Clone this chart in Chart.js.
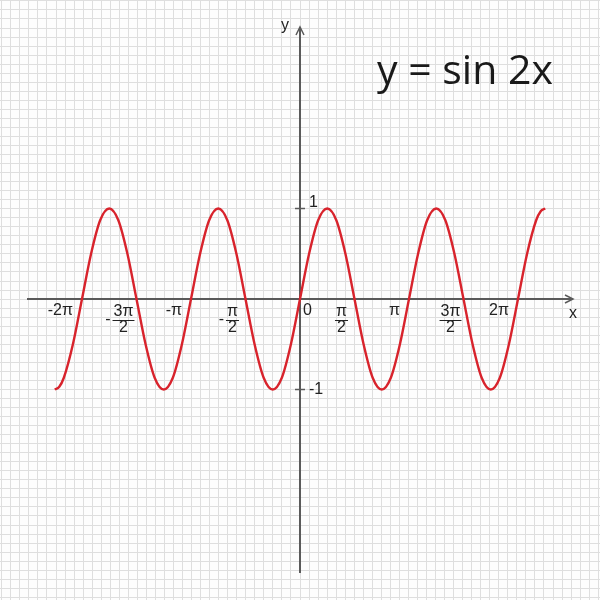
<!DOCTYPE html>
<html>
<head>
<meta charset="utf-8">
<script src="https://cdn.jsdelivr.net/npm/chart.js@4.4.1/dist/chart.umd.min.js"></script>
<style>
  html, body { margin: 0; padding: 0; background: #fdfdfd; }
  #wrap { width: 600px; height: 600px; }
</style>
</head>
<body>
<div id="wrap"><canvas id="sinChart" width="600" height="600"></canvas></div>
<script>
// x in degrees (180 = pi), every 15 degrees (plus one extra near each end)
const xDeg = [
  -405, -397.5, -390, -375, -360, -345, -330, -315, -300, -285, -270, -255, -240,
  -225, -210, -195, -180, -165, -150, -135, -120, -105, -90, -75, -60,
  -45, -30, -15, 0, 15, 30, 45, 60, 75, 90, 105, 120,
  135, 150, 165, 180, 195, 210, 225, 240, 255, 270, 285, 300,
  315, 330, 345, 360, 375, 390, 397.5, 405
];
const yVals = [
  -1, -0.97, -0.87, -0.5, 0, 0.5, 0.87, 1, 0.87, 0.5, 0, -0.5, -0.87,
  -1, -0.87, -0.5, 0, 0.5, 0.87, 1, 0.87, 0.5, 0, -0.5, -0.87,
  -1, -0.87, -0.5, 0, 0.5, 0.87, 1, 0.87, 0.5, 0, -0.5, -0.87,
  -1, -0.87, -0.5, 0, 0.5, 0.87, 1, 0.87, 0.5, 0, -0.5, -0.87,
  -1, -0.87, -0.5, 0, 0.5, 0.87, 0.97, 1
];
const xTickVals = [-360, -270, -180, -90, 0, 90, 180, 270, 360];
const xTickLabels = ['-2π', '-3π/2', '-π', '-π/2', '0', 'π/2', 'π', '3π/2', '2π'];
const yTickVals = [1, -1];
const yTickLabels = ['1', '-1'];
const titleText = 'y = sin 2x';

const points = xDeg.map((x, i) => ({ x: x, y: yVals[i] }));

const axisColor = '#5a5a5a';
const labelFont = '16px "Liberation Sans", Arial, sans-serif';

// axes, arrows, tick labels and title drawn under the curve
const axesPlugin = {
  id: 'axesPlugin',
  beforeDatasetsDraw(chart) {
    const ctx = chart.ctx;
    const xs = chart.scales.x;
    const ys = chart.scales.y;
    const ox = xs.getPixelForValue(0);
    const oy = ys.getPixelForValue(0);
    const left = 27, right = 573, top = 27, bottom = 573;

    ctx.save();
    ctx.strokeStyle = axisColor;
    ctx.lineWidth = 2;
    ctx.beginPath();
    ctx.moveTo(left, oy); ctx.lineTo(right, oy);
    ctx.moveTo(ox, bottom); ctx.lineTo(ox, top);
    ctx.stroke();

    // arrow heads
    ctx.lineWidth = 1.5;
    ctx.beginPath();
    ctx.moveTo(right - 8, oy - 4); ctx.lineTo(right, oy); ctx.lineTo(right - 8, oy + 4);
    ctx.moveTo(ox - 4, top + 8); ctx.lineTo(ox, top); ctx.lineTo(ox + 4, top + 8);
    ctx.stroke();

    // y ticks
    ctx.lineWidth = 1.5;
    yTickVals.forEach(v => {
      const py = ys.getPixelForValue(v);
      ctx.beginPath();
      ctx.moveTo(ox - 5, py); ctx.lineTo(ox + 5, py);
      ctx.stroke();
    });

    ctx.fillStyle = '#222';
    ctx.font = labelFont;
    ctx.textBaseline = 'middle';

    // x labels
    xTickVals.forEach((v, i) => {
      const px = xs.getPixelForValue(v);
      const lab = xTickLabels[i];
      if (lab === '0') {
        ctx.textAlign = 'left';
        ctx.fillText(lab, ox + 3, oy + 12);
      } else if (lab.indexOf('/') >= 0) {
        let neg = lab[0] === '-';
        const parts = (neg ? lab.slice(1) : lab).split('/');
        const cx = px - 13;
        ctx.textAlign = 'center';
        ctx.fillText(parts[0], cx, oy + 13);
        ctx.fillText(parts[1], cx, oy + 29);
        const w = ctx.measureText(parts[0]).width;
        ctx.lineWidth = 1;
        ctx.strokeStyle = '#222';
        ctx.beginPath();
        ctx.moveTo(cx - w / 2 - 1, oy + 21.5); ctx.lineTo(cx + w / 2 + 1, oy + 21.5);
        ctx.stroke();
        if (neg) {
          ctx.textAlign = 'right';
          ctx.fillText('-', cx - w / 2 - 3, oy + 21);
        }
      } else {
        ctx.textAlign = 'right';
        ctx.fillText(lab, px - 9, oy + 12);
      }
    });

    // y labels
    ctx.textAlign = 'left';
    yTickVals.forEach((v, i) => {
      const py = ys.getPixelForValue(v);
      ctx.fillText(yTickLabels[i], ox + 9, py + (v > 0 ? -6 : 0));
    });

    // axis names
    ctx.textAlign = 'center';
    ctx.fillText('x', right, oy + 15);
    ctx.fillText('y', ox - 15, 26);

    // title
    ctx.textAlign = 'left';
    ctx.textBaseline = 'alphabetic';
    ctx.fillStyle = '#1a1a1a';
    ctx.font = '41px "Open Sans", sans-serif';
    ctx.fillText(titleText, 377, 84);
    ctx.restore();
  }
};

// one grid line per whole grid cell
const cellTicks = scale => {
  const t = [];
  for (let v = Math.ceil(scale.min); v <= Math.floor(scale.max); v++) t.push({ value: v });
  scale.ticks = t;
};

const ctx = document.getElementById('sinChart').getContext('2d');
const sinChart = new Chart(ctx, {
  type: 'line',
  data: {
    datasets: [{
      label: titleText,
      data: points,
      borderColor: '#d8232c',
      borderWidth: 2.4,
      pointRadius: 0,
      pointHoverRadius: 0,
      fill: false,
      cubicInterpolationMode: 'monotone'
    }]
  },
  options: {
    responsive: false,
    animation: false,
    layout: { padding: 0, autoPadding: false },
    plugins: { legend: { display: false }, tooltip: { enabled: false } },
    scales: {
      x: { type: 'linear', display: false, min: -495.4, max: 495.4 },
      y: { type: 'linear', display: false, min: -3.326, max: 3.304 },
      // graph paper grid, in grid cells (about 9px each), centred on the origin
      gx: {
        type: 'linear', axis: 'x', position: 'bottom',
        min: -33.2, max: 33.2,
        afterBuildTicks: cellTicks,
        ticks: { display: false },
        border: { display: false },
        grid: { color: '#dedede', lineWidth: 1, drawTicks: false }
      },
      gy: {
        type: 'linear', axis: 'y', position: 'left',
        min: -33.3, max: 33.1,
        afterBuildTicks: cellTicks,
        ticks: { display: false },
        border: { display: false },
        grid: { color: '#dedede', lineWidth: 1, drawTicks: false }
      }
    }
  },
  plugins: [axesPlugin]
});
</script>
</body>
</html>
